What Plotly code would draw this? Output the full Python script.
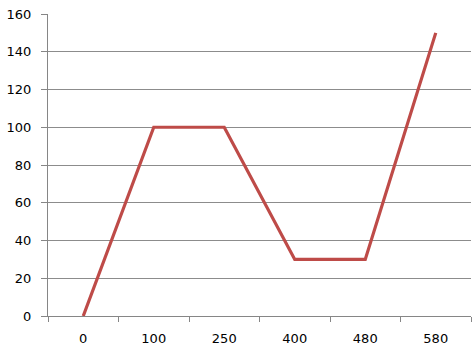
import plotly.graph_objects as go

categories = ["0", "100", "250", "400", "480", "580"]
values = [0, 100, 100, 30, 30, 150]
y_ticks = [0, 20, 40, 60, 80, 100, 120, 140, 160]

fig = go.Figure()
fig.add_trace(go.Scatter(
    x=categories, y=values, mode="lines",
    line=dict(color="#BE4B48", width=3.2),
))

axis_font = dict(family="DejaVu Sans", size=13, color="#000000")
fig.update_layout(
    width=474, height=350,
    margin=dict(l=48, r=3, t=14, b=34),
    paper_bgcolor="white", plot_bgcolor="white",
    showlegend=False,
    xaxis=dict(
        type="category", range=[-0.5, 5.5],
        tickson="boundaries", ticks="outside", ticklen=5,
        tickcolor="#868686", showline=True, linecolor="#868686",
        showgrid=False, tickfont=axis_font, zeroline=False,
        ticklabelstandoff=10,
    ),
    yaxis=dict(
        range=[0, 160], tickvals=y_ticks, ticks="outside", ticklen=6,
        tickcolor="#868686", showline=True, linecolor="#868686",
        showgrid=True, gridcolor="#8c8c8c", gridwidth=1,
        tickfont=axis_font, zeroline=False, ticklabelstandoff=7,
    ),
)

fig.write_html("out.html")
